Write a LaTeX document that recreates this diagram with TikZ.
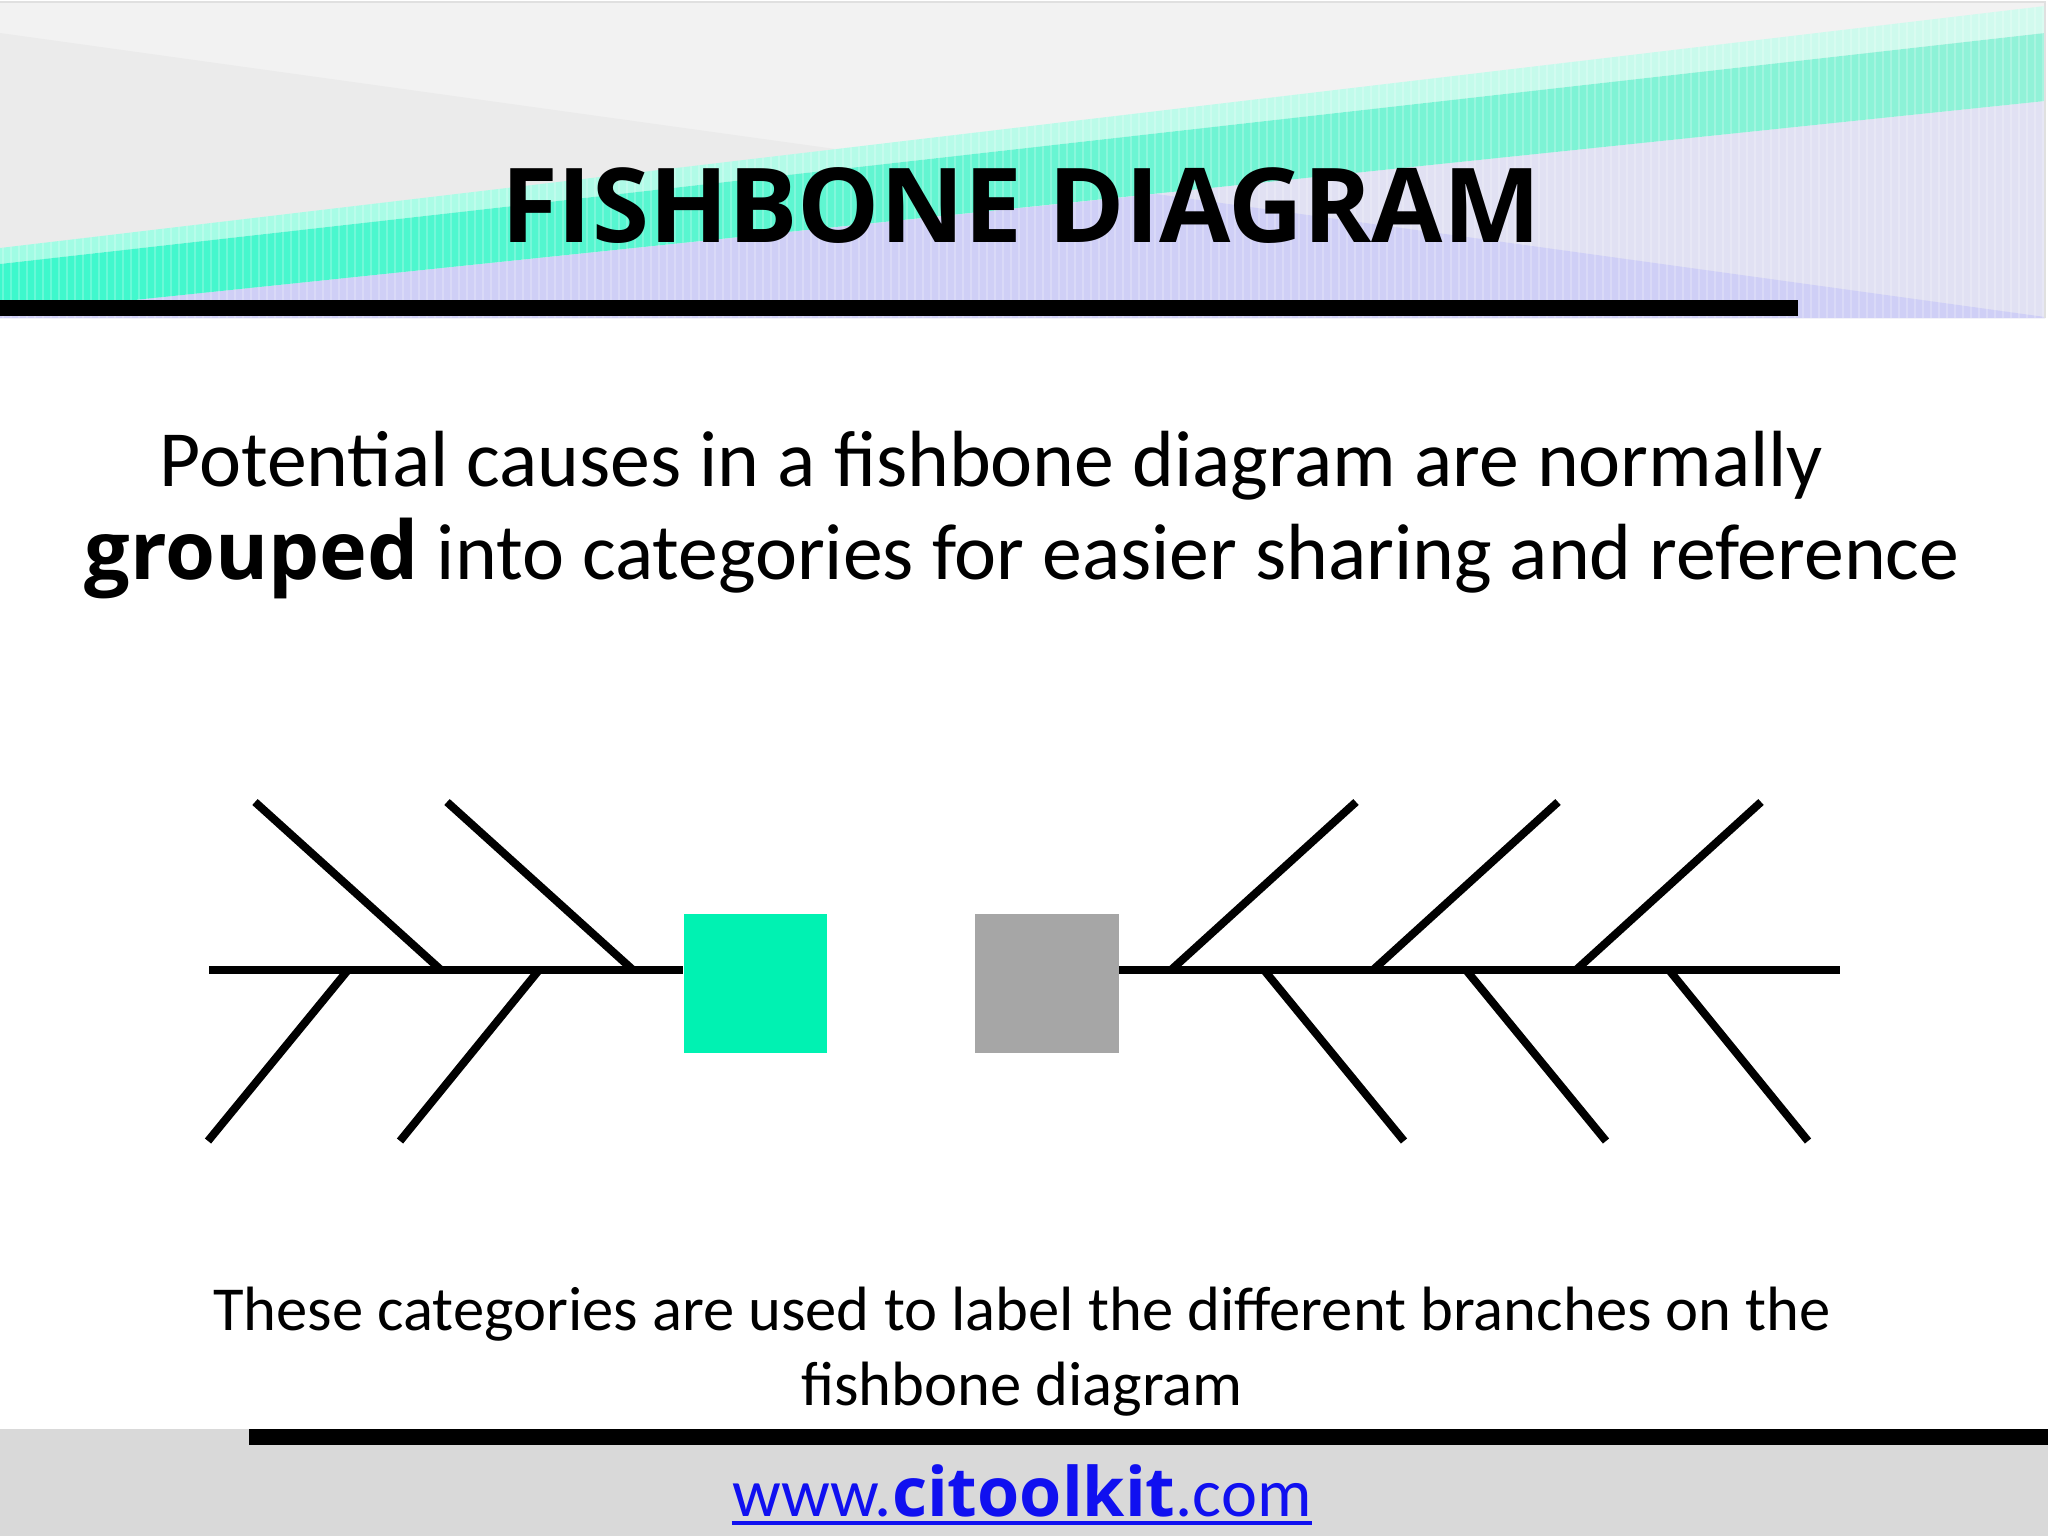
\documentclass[tikz,border=0pt]{standalone}
\usepackage{fontspec}
\setmainfont{Carlito}
\newfontfamily\titlefont{Open Sans}
\definecolor{hdrgray}{HTML}{F2F2F2}
\definecolor{hdrdark}{HTML}{EBEBEB}
\definecolor{lavlight}{HTML}{E1E1F3}
\definecolor{lavstrong}{HTML}{CFCFF6}
\definecolor{tealL}{HTML}{3CF8CC}
\definecolor{tealR}{HTML}{92F2D8}
\definecolor{tealpaleL}{HTML}{A0FCE4}
\definecolor{tealpaleR}{HTML}{D2FAEE}
\definecolor{headbox}{HTML}{00F2B2}
\definecolor{tailbox}{HTML}{A6A6A6}
\definecolor{footgray}{HTML}{D9D9D9}
\definecolor{linkblue}{HTML}{1010F0}
\tikzset{
  bone/.style={line width=0.08cm, black, line cap=butt},
  fishbox/.style={minimum width=1.43cm, minimum height=1.39cm, inner sep=0pt, draw=none},
  bodytext/.style={inner sep=0pt, font=\fontsize{22.66}{27}\selectfont},
  smalltext/.style={inner sep=0pt, font=\fontsize{17.8}{21}\selectfont},
}
\begin{document}
\begin{tikzpicture}[x=0.01cm,y=-0.01cm]
\useasboundingbox (0,0) rectangle (2048,1536);
\fill[white] (0,0) rectangle (2048,1536);
% header background
\fill[hdrgray] (0,2) rectangle (2045,318);
\fill[hdrdark] (0,33) -- (2045,317) -- (2045,318) -- (0,318) -- cycle;
\fill[lavlight] (0,314) -- (2045,101) -- (2045,318) -- (0,318) -- cycle;
\fill[lavstrong] (0,314) -- (1156,194) -- (2045,317) -- (2045,318) -- (0,318) -- cycle;
\shade[left color=tealpaleL, right color=tealpaleR] (0,248) -- (2045,6) -- (2045,33) -- (0,264) -- cycle;
\shade[left color=tealL, right color=tealR] (0,264) -- (2045,33) -- (2045,101) -- (0,314) -- cycle;
\begin{scope}
\clip (0,248) -- (2045,6) -- (2045,318) -- (0,318) -- cycle;
\foreach \x in {3,11,...,2045} {\draw[white, opacity=0.22, line width=0.012cm] (\x,0) -- (\x,318);}
\end{scope}
\draw[black!12, line width=0.02cm] (0,2) -- (2045,2) -- (2045,318);
\fill[black] (0,300) rectangle (1798,316);
\node[inner sep=0pt, anchor=base, font=\titlefont\bfseries\fontsize{29.4}{33}\selectfont] (title) at (1021,242) {FISHBONE DIAGRAM};
% intro text
\node[bodytext, anchor=base west] (line1) at (159,486) {Potential causes in a fishbone diagram are normally};
\node[bodytext, anchor=base west] (line2) at (84,579) {{\titlefont\bfseries\fontsize{23.0}{27}\selectfont grouped} into categories for easier sharing and reference};
% fishbone
\node[fishbox, fill=headbox] (head) at (755.5,983.5) {};
\node[fishbox, fill=tailbox] (tail) at (1047,983.5) {};
\coordinate (spineL) at (209,970);
\coordinate (spineR) at (1840,970);
\coordinate (lu1t) at (255,802); \coordinate (lu1b) at (441,970);
\coordinate (lu2t) at (447,802); \coordinate (lu2b) at (633,970);
\coordinate (ll1t) at (348,970); \coordinate (ll1b) at (208,1141);
\coordinate (ll2t) at (539,970); \coordinate (ll2b) at (400,1141);
\coordinate (ru1b) at (1171,970); \coordinate (ru1t) at (1356,802);
\coordinate (ru2b) at (1373,970); \coordinate (ru2t) at (1558,802);
\coordinate (ru3b) at (1576,970); \coordinate (ru3t) at (1761,802);
\coordinate (rl1t) at (1264,970); \coordinate (rl1b) at (1404,1141);
\coordinate (rl2t) at (1466,970); \coordinate (rl2b) at (1606,1141);
\coordinate (rl3t) at (1669,970); \coordinate (rl3b) at (1808,1141);
\draw[bone] (spineL) -- (spineL -| head.west);
\draw[bone] (spineR -| tail.east) -- (spineR);
\foreach \a/\b in {lu1t/lu1b, lu2t/lu2b, ll1t/ll1b, ll2t/ll2b, ru1b/ru1t, ru2b/ru2t, ru3b/ru3t, rl1t/rl1b, rl2t/rl2b, rl3t/rl3b}
  {\draw[bone] (\a) -- (\b);}
% bottom text
\node[smalltext, anchor=base] (note1) at (1022,1330) {These categories are used to label the different branches on the};
\node[smalltext, anchor=base] (note2) at (1022,1405) {fishbone diagram};
% footer
\fill[footgray] (0,1429) rectangle (2048,1536);
\fill[black] (249,1429) rectangle (2048,1445);
\node[inner sep=0pt, anchor=base, text=linkblue, font=\fontsize{19.4}{23}\selectfont] (link) at (1022,1516) {www.{\titlefont\bfseries citoolkit}.com};
\draw[linkblue, line width=0.04cm] ([yshift=-0.07cm]link.base west) -- ([yshift=-0.07cm]link.base east);
\end{tikzpicture}
\end{document}
